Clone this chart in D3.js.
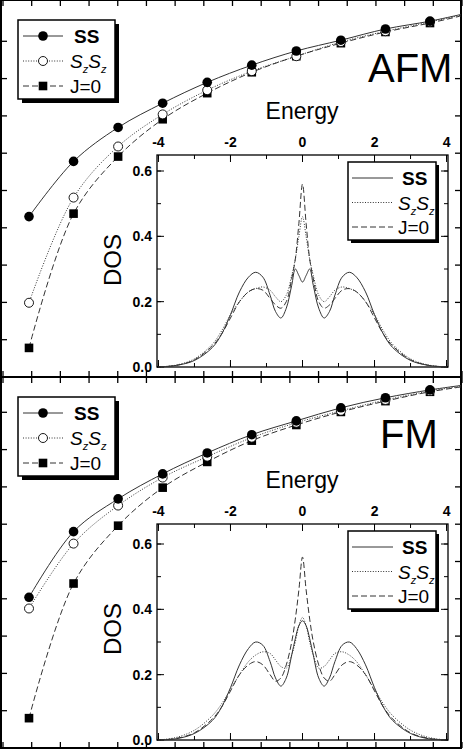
<!DOCTYPE html>
<html><head><meta charset="utf-8">
<script src="https://cdn.jsdelivr.net/npm/d3@7"></script>
<style>body{margin:0;background:#fff}text{font-family:"Liberation Sans",Arial,sans-serif}</style>
</head><body>
<svg id="c" width="474" height="755"></svg>
<script>
// outer curves: point index 1..10
var idx = [1, 2, 3, 4, 5, 6, 7, 8, 9, 10];
var afmSS   = [4.30, 5.78, 6.69, 7.34, 7.90, 8.36, 8.74, 9.03, 9.33, 9.54];
var afmSzSz = [1.99, 4.81, 6.18, 7.04, 7.69, 8.20, 8.60, 8.98, 9.27, 9.52];
var afmJ0   = [0.78, 4.38, 5.91, 6.91, 7.61, 8.17, 8.60, 8.95, 9.25, 9.49];
var fmSS    = [4.04, 5.80, 6.68, 7.35, 7.91, 8.40, 8.77, 9.12, 9.39, 9.60];
var fmSzSz  = [3.74, 5.48, 6.50, 7.25, 7.81, 8.32, 8.72, 9.04, 9.33, 9.57];
var fmJ0    = [0.80, 4.41, 5.96, 6.98, 7.67, 8.24, 8.66, 9.01, 9.30, 9.55];
var edgeVal = [9.72, 9.70, 9.68]; // curve value at the right frame edge

// inset DOS, negative half (curves are symmetric in energy)
var energy    = [-4, -3.5, -3, -2.5, -2.25, -2, -1.75, -1.5, -1.3, -1.1, -0.9, -0.75, -0.6, -0.45, -0.3, -0.2, -0.1, 0];
var dosAfmSS   = [0, 0.005, 0.02, 0.06, 0.10, 0.16, 0.23, 0.275, 0.29, 0.275, 0.22, 0.17, 0.15, 0.18, 0.25, 0.30, 0.28, 0.26];
var dosAfmSzSz = [0, 0.006, 0.025, 0.07, 0.11, 0.16, 0.20, 0.23, 0.24, 0.245, 0.235, 0.215, 0.20, 0.22, 0.28, 0.33, 0.40, 0.46];
var dosAfmJ0   = [0, 0.005, 0.022, 0.065, 0.10, 0.15, 0.20, 0.23, 0.24, 0.235, 0.21, 0.19, 0.18, 0.20, 0.27, 0.33, 0.44, 0.56];
var dosFmSS    = [0, 0.004, 0.02, 0.06, 0.10, 0.16, 0.23, 0.28, 0.30, 0.29, 0.24, 0.19, 0.165, 0.19, 0.26, 0.31, 0.35, 0.365];
var dosFmSzSz  = [0, 0.008, 0.03, 0.075, 0.11, 0.155, 0.20, 0.24, 0.26, 0.27, 0.265, 0.245, 0.225, 0.22, 0.26, 0.30, 0.35, 0.375];
var dosFmJ0    = [0, 0.005, 0.022, 0.065, 0.10, 0.15, 0.20, 0.23, 0.24, 0.23, 0.20, 0.18, 0.19, 0.23, 0.30, 0.37, 0.46, 0.56];
var insetXTicks = [-4, -2, 0, 2, 4];
var insetYTicks = [0, 0.2, 0.4, 0.6];

var svg = d3.select("#c");
var dashes = {ss: null, szsz: "1,1.6", j0: "6,3"};

function full(half) {
  return half.concat(half.slice(0, -1).reverse());
}
var fullE = energy.concat(energy.slice(0, -1).reverse().map(function (e) { return -e; }));

function ticks(g, scale, vals, len, orient, pos) {
  vals.forEach(function (v) {
    var p = scale(v);
    if (orient == "h") g.append("line").attr("x1", p).attr("x2", p).attr("y1", pos).attr("y2", pos + len);
    else g.append("line").attr("y1", p).attr("y2", p).attr("x1", pos).attr("x2", pos + len);
  });
}

function legendLabel(t, kind) {
  if (kind == "ss") t.text("SS").attr("font-weight", "bold");
  else if (kind == "szsz") {
    t.attr("font-style", "italic");
    t.append("tspan").text("S");
    t.append("tspan").text("z").attr("font-size", 11).attr("dy", 5);
    t.append("tspan").text("S").attr("dy", -5);
    t.append("tspan").text("z").attr("font-size", 11).attr("dy", 5);
  } else t.text("J=0");
}

function panel(top, bottom, name, outer, dos, lblX, lblY) {
  var g = svg.append("g").attr("stroke-linecap", "butt");
  var x = d3.scaleLinear().domain([1, 10]).range([29, 430]);
  var y = d3.scaleLinear().domain([0, 1]).range([bottom, bottom - 37.3]);
  var xt = d3.scaleLinear().domain([0, 16]).range([3, 462]);

  // frame
  g.append("rect").attr("x", 1).attr("y", top).attr("width", 460).attr("height", bottom - top)
    .attr("fill", "none").attr("stroke", "#000").attr("stroke-width", 2);
  var tk = g.append("g").attr("stroke", "#000").attr("stroke-width", 1.3);
  var xv = d3.range(0, 17), yv = d3.range(1, 10);
  ticks(tk, xt, xv, 6, "h", top);
  ticks(tk, xt, xv, -6, "h", bottom);
  ticks(tk, y, yv, 6, "v", 1);
  ticks(tk, y, yv, -6, "v", 461);

  // outer curves
  var kinds = ["ss", "szsz", "j0"];
  kinds.forEach(function (k, i) {
    var pts = idx.map(function (d, j) { return [x(d), y(outer[i][j])]; });
    pts.push([461, y(edgeVal[i])]);
    g.append("path").attr("d", d3.line().curve(d3.curveCatmullRom)(pts))
      .attr("fill", "none").attr("stroke", "#333").attr("stroke-width", 1)
      .attr("stroke-dasharray", dashes[k]);
  });
  kinds.slice().reverse().forEach(function (k) {
    var i = kinds.indexOf(k);
    idx.forEach(function (d, j) {
      marker(g, k, x(d), y(outer[i][j]));
    });
  });

  // outer legend
  var lg = g.append("g");
  lg.append("rect").attr("x", 22).attr("y", top + 24).attr("width", 97).attr("height", 79).attr("fill", "#000");
  lg.append("rect").attr("x", 18).attr("y", top + 20).attr("width", 97).attr("height", 79)
    .attr("fill", "#fff").attr("stroke", "#000").attr("stroke-width", 1.5);
  kinds.forEach(function (k, i) {
    var yy = top + 36 + i * 25;
    lg.append("line").attr("x1", 23).attr("x2", 63).attr("y1", yy).attr("y2", yy)
      .attr("stroke", "#333").attr("stroke-dasharray", dashes[k]);
    marker(lg, k, 43, yy);
    var t = lg.append("text").attr("x", k == "ss" ? 74 : 70).attr("y", yy + 7).attr("font-size", 19);
    legendLabel(t, k);
  });

  g.append("text").attr("x", lblX).attr("y", lblY).attr("font-size", 40).text(name);

  // inset
  var iTop = top + (name == "AFM" ? 155 : 147), iBot = top + (name == "AFM" ? 367 : 363);
  var ix = d3.scaleLinear().domain([-4.04, 4.04]).range([157, 448]);
  var iy = d3.scaleLinear().domain([0, 0.6]).range([iBot, iBot - 196]);
  g.append("rect").attr("x", 157).attr("y", iTop).attr("width", 291).attr("height", iBot - iTop)
    .attr("fill", "none").attr("stroke", "#000").attr("stroke-width", 1.3);
  var it = g.append("g").attr("stroke", "#000").attr("stroke-width", 1);
  var ixv = d3.range(-4, 5), iyv = d3.range(0, 0.65, 0.1);
  ticks(it, ix, ixv, 4, "h", iTop);
  ticks(it, ix, insetXTicks, 7, "h", iTop);
  ticks(it, ix, ixv, -4, "h", iBot);
  ticks(it, ix, insetXTicks, -7, "h", iBot);
  ticks(it, iy, iyv, 4, "v", 157);
  ticks(it, iy, insetYTicks, 7, "v", 157);
  ticks(it, iy, iyv, -4, "v", 448);
  ticks(it, iy, insetYTicks, -7, "v", 448);
  insetXTicks.forEach(function (v) {
    g.append("text").attr("x", ix(v)).attr("y", iTop - 8).attr("text-anchor", "middle")
      .attr("font-size", 14).attr("font-weight", "bold").text(v);
  });
  insetYTicks.forEach(function (v) {
    g.append("text").attr("x", 152).attr("y", iy(v) + 5).attr("text-anchor", "end")
      .attr("font-size", 14).attr("font-weight", "bold").text(v.toFixed(1));
  });
  g.append("text").attr("x", 302).attr("y", iTop - 36).attr("text-anchor", "middle").attr("font-size", 23).text("Energy");
  g.append("text").attr("transform", "translate(" + 121 + "," + (iTop + 105) + ") rotate(-90)")
    .attr("text-anchor", "middle").attr("font-size", 24).text("DOS");

  kinds.forEach(function (k, i) {
    var vals = full(dos[i]);
    var line = d3.line().curve(d3.curveCatmullRom).x(function (d, j) { return ix(fullE[j]); }).y(function (d) { return iy(d); });
    g.append("path").attr("d", line(vals)).attr("fill", "none").attr("stroke", "#333")
      .attr("stroke-width", 1).attr("stroke-dasharray", dashes[k]);
  });

  // inset legend
  var ly = iTop + 7;
  var il = g.append("g");
  il.append("rect").attr("x", 351).attr("y", ly + 3).attr("width", 88).attr("height", 78).attr("fill", "#000");
  il.append("rect").attr("x", 348).attr("y", ly).attr("width", 88).attr("height", 78)
    .attr("fill", "#fff").attr("stroke", "#000").attr("stroke-width", 1.5);
  kinds.forEach(function (k, i) {
    var yy = ly + 16 + i * 24.5;
    il.append("line").attr("x1", 352).attr("x2", 393).attr("y1", yy).attr("y2", yy)
      .attr("stroke", "#333").attr("stroke-dasharray", dashes[k]);
    var t = il.append("text").attr("x", k == "ss" ? 402 : 398).attr("y", yy + 7).attr("font-size", 19);
    legendLabel(t, k);
  });
}

function marker(g, k, cx, cy) {
  if (k == "ss") g.append("circle").attr("cx", cx).attr("cy", cy).attr("r", 4.8).attr("fill", "#000");
  else if (k == "szsz") g.append("circle").attr("cx", cx).attr("cy", cy).attr("r", 4.5).attr("fill", "#fff").attr("stroke", "#000").attr("stroke-width", 0.9);
  else g.append("rect").attr("x", cx - 4.3).attr("y", cy - 4.3).attr("width", 8.6).attr("height", 8.6).attr("fill", "#000");
}

panel(0, 377, "AFM", [afmSS, afmSzSz, afmJ0], [dosAfmSS, dosAfmSzSz, dosAfmJ0], 368, 82);
panel(377, 748, "FM", [fmSS, fmSzSz, fmJ0], [dosFmSS, dosFmSzSz, dosFmJ0], 380, 448);
</script>
</body></html>
